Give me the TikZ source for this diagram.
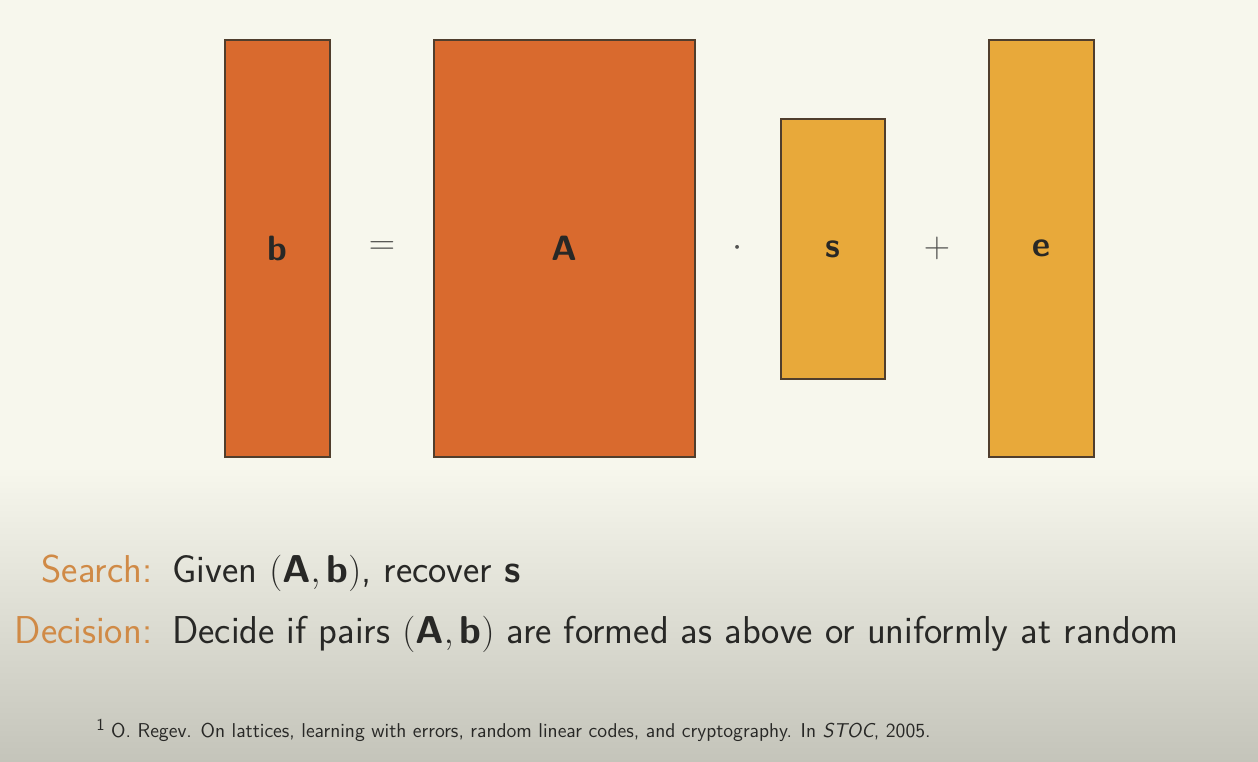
\documentclass[tikz,border=0pt]{standalone}
\usepackage{tikz}
\usetikzlibrary{positioning}
\usepackage{xcolor}
\usepackage{amsmath}

\definecolor{slidebg}{RGB}{247,247,237}
\definecolor{slidebot}{RGB}{196,196,186}
\definecolor{matorange}{RGB}{217,106,46}
\definecolor{matyellow}{RGB}{232,169,58}
\definecolor{boxedge}{RGB}{80,62,45}
\definecolor{labeltan}{RGB}{208,138,70}
\definecolor{textdark}{RGB}{40,40,38}

\begin{document}
\begin{tikzpicture}[
    mat/.style={draw=boxedge, line width=0.7pt, inner sep=0pt, text=textdark,
        font=\sffamily\bfseries\fontsize{20}{24}\selectfont},
    op/.style={text=textdark!80, font=\fontsize{20}{24}\selectfont},
    body/.style={text=textdark, font=\sffamily\fontsize{22.1}{26}\selectfont, inner sep=0pt},
    tag/.style={text=labeltan, font=\sffamily\fontsize{22.1}{26}\selectfont, inner sep=0pt}
]
% background, cream fading to grey near the bottom
\useasboundingbox (0,0) rectangle (25.16,15.24);
\fill[slidebg] (0,0) rectangle (25.16,15.24);
\fill[top color=slidebg, bottom color=slidebot] (0,0) rectangle (25.16,5.9);

% the matrices
\node[mat, fill=matorange, minimum width=2.10cm, minimum height=8.34cm] (b) at (5.55,10.27) {b};
\node[mat, fill=matorange, minimum width=5.22cm, minimum height=8.34cm] (A) at (11.29,10.27) {A};
\node[mat, fill=matyellow, minimum width=2.08cm, minimum height=5.20cm] (s) at (16.66,10.26) {s};
\node[mat, fill=matyellow, minimum width=2.10cm, minimum height=8.34cm] (e) at (20.83,10.27) {e};

% operators
\node[op] (eq) at (7.64,10.28) {$=$};
\node[op] (dot) at (14.76,10.28) {$\cdot$};
\node[op] (plus) at (18.74,10.28) {$+$};

% search / decision
\node[tag, anchor=base east] (search) at (3.05,3.58) {Search:};
\node[body, anchor=base west] (searchtxt) at (3.44,3.58)
    {Given $(\textbf{A},\textbf{b})$, recover \textbf{s}};
\node[tag, anchor=base east] (decision) at (3.05,2.36) {Decision:};
\node[body, anchor=base west] (decisiontxt) at (3.44,2.36)
    {Decide if pairs $(\textbf{A},\textbf{b})$ are formed as above or uniformly at random};

% footnote
\node[anchor=base west, inner sep=0pt, text=textdark, font=\sffamily\fontsize{11.4}{13}\selectfont] (cite) at (1.92,0.48)
    {\raisebox{0.8ex}{\fontsize{9.5}{10}\selectfont 1} O.~Regev. On lattices, learning with errors, random linear codes, and cryptography. In \textit{STOC}, 2005.};
\end{tikzpicture}
\end{document}
